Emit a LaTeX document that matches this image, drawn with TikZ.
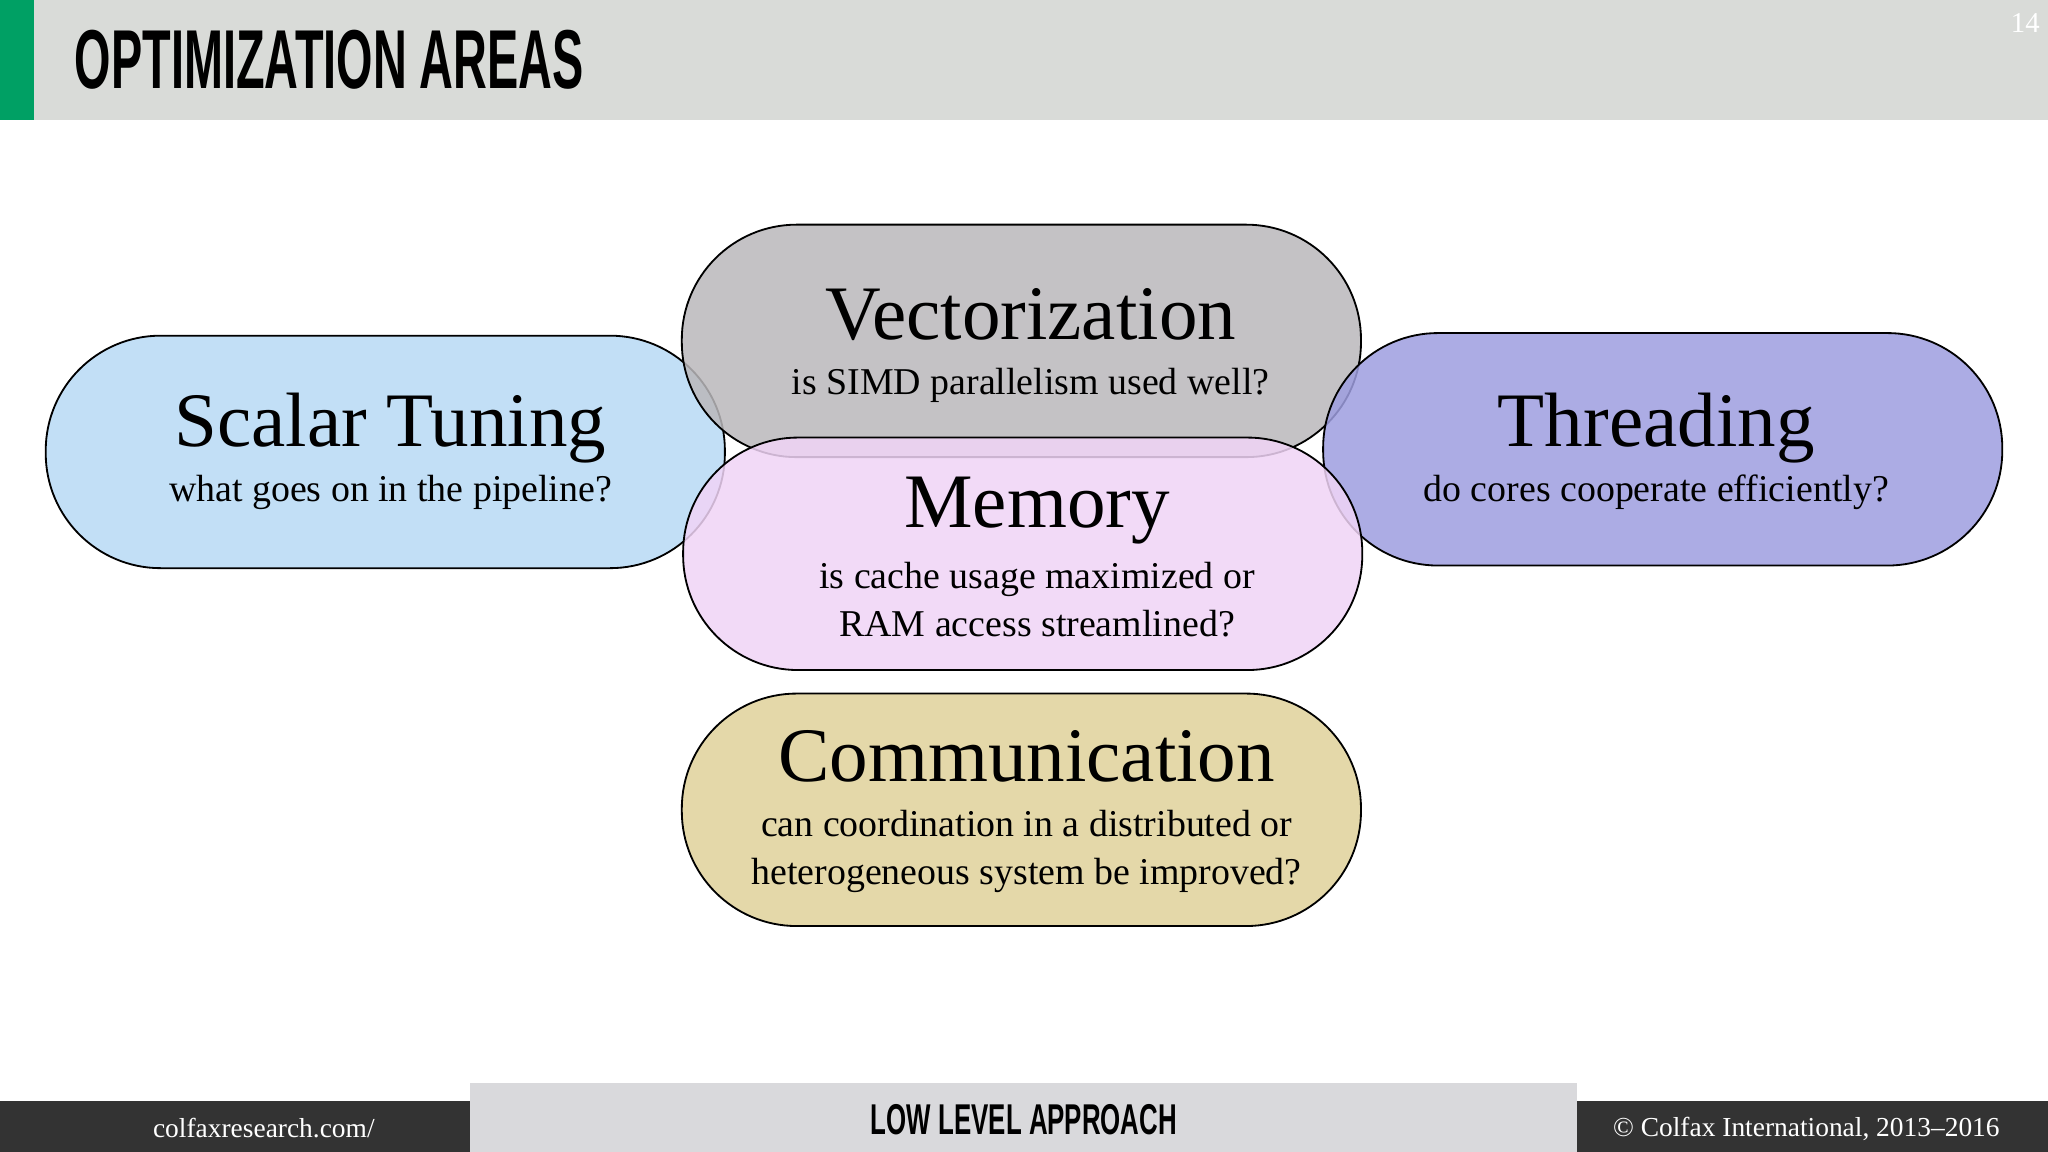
\documentclass[tikz,border=0pt]{standalone}
\usepackage{fontspec}
\setmainfont{Liberation Serif}
\newfontfamily\headfont{Liberation Sans}
\begin{document}
\begin{tikzpicture}[x=0.5pt,y=-0.5pt,
  pill/.style={draw=black,line width=0.7pt,rectangle,rounded corners=44pt,minimum width=260pt,minimum height=89pt,fill opacity=0.85},
  big/.style={font=\fontsize{29.5}{33}\selectfont,anchor=base},
  small/.style={font=\fontsize{14.5}{18.5}\selectfont,align=center},
  hd/.style={font=\headfont\bfseries}]
\definecolor{hdgrey}{RGB}{217,219,216}
\definecolor{hgreen}{RGB}{0,160,100}
\definecolor{cblue}{RGB}{184,218,245}
\definecolor{cgrey}{RGB}{186,184,187}
\definecolor{cpurple}{RGB}{158,158,224}
\definecolor{cpink}{RGB}{240,212,246}
\definecolor{ctan}{RGB}{224,210,155}
\definecolor{fdark}{RGB}{51,51,51}
\definecolor{fmid}{RGB}{217,217,220}
\useasboundingbox (0,0) rectangle (1568,882);
\fill[white] (0,0) rectangle (1568,882);
\fill[hdgrey] (0,0) rectangle (1568,92);
\fill[hgreen] (0,0) rectangle (26,92);
\node[hd,anchor=west,inner sep=0] (title) at (57,46) {\scalebox{0.56}[1]{\fontsize{32}{32}\selectfont OPTIMIZATION AREAS}};
\node[font=\fontsize{11}{11}\selectfont,text=white,anchor=east,inner sep=0] (pg) at (1562,18) {14};
% pills
\node[pill,fill=cblue] (scal) at (295,346) {};
\node[pill,fill=cgrey] (vec) at (782,261) {};
\node[pill,fill=cpurple] (thr) at (1273,344) {};
\node[pill,fill=cpink] (mem) at (783,424) {};
\node[pill,fill=ctan] (com) at (782,620) {};
% texts
\node[big] (scalT) at (299,342) {Scalar Tuning};
\node[small] (scalS) at (299,377) {what goes on in the pipeline?};
\node[big] (vecT) at (789,260) {Vectorization};
\node[small] (vecS) at (789,295) {is SIMD parallelism used well?};
\node[big] (thrT) at (1268,342) {Threading};
\node[small] (thrS) at (1268,377) {do cores cooperate efficiently?};
\node[big] (memT) at (794,404) {Memory};
\node[small] (memS) at (794,459) {is cache usage maximized or\\RAM access streamlined?};
\node[big] (comT) at (786,598) {Communication};
\node[small] (comS) at (786,652) {can coordination in a distributed or\\heterogeneous system be improved?};
% footer
\fill[fdark] (0,843) rectangle (1568,882);
\fill[fmid] (360,829) rectangle (1207,882);
\node[font=\fontsize{10.5}{12}\selectfont,text=white] (url) at (202,864) {colfaxresearch.com/};
\node[hd] (low) at (784,857) {\scalebox{0.6}[1]{\fontsize{16.5}{16.5}\selectfont LOW LEVEL APPROACH}};
\node[font=\fontsize{10.5}{12}\selectfont,text=white] (copy) at (1383,864) {© Colfax International, 2013–2016};
\end{tikzpicture}
\end{document}
